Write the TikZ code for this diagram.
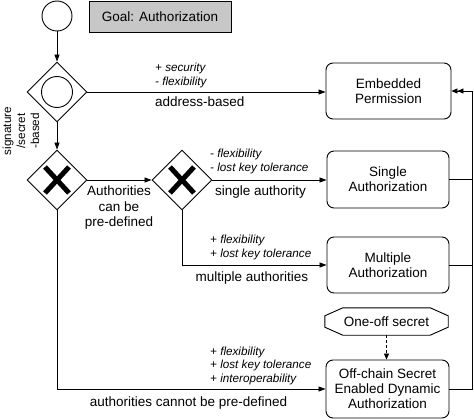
\documentclass[tikz,border=0pt]{standalone}
\usepackage{fontspec}
\setmainfont{Liberation Sans}
\usetikzlibrary{shapes.geometric,arrows.meta}
\tikzset{
  lbl/.style={font=\fontsize{13.5}{15.5}\selectfont, inner sep=0pt},
  ilbl/.style={font=\fontsize{11.7}{13.5}\selectfont\itshape, inner sep=0pt, align=left, anchor=west},
  task/.style={draw, line width=0.9pt, rounded corners=7pt, align=center, font=\fontsize{13.5}{15}\selectfont, inner sep=0pt},
  gate/.style={draw, line width=0.9pt, diamond, aspect=1, minimum size=60pt, inner sep=0pt},
  flow/.style={line width=0.8pt, -{Triangle[length=7pt,width=5pt]}},
  plain/.style={line width=0.8pt},
}
\begin{document}
\begin{tikzpicture}[x=1pt,y=-1pt]
\useasboundingbox (0,0) rectangle (474,420);
% nodes
\node[draw, circle, line width=0.9pt, minimum size=30pt, inner sep=0pt] (start) at (57,16) {};
\node[draw, line width=0.9pt, fill=black!22, minimum width=142pt, minimum height=31pt, font=\fontsize{13.5}{15}\selectfont] (goal) at (160,16.5) {Goal: Authorization};
\node[gate] (gw1) at (57,92) {};
\node[draw, circle, line width=0.9pt, minimum size=31pt, inner sep=0pt] (gw1c) at (gw1) {};
\node[gate] (gw2) at (57,180) {};
\node[gate] (gw3) at (182,180) {};
\foreach \g in {gw2,gw3}{
  \draw[line width=5pt] ([shift={(-12,-13)}]\g.center) -- ([shift={(12,13)}]\g.center);
  \draw[line width=5pt] ([shift={(-12,13)}]\g.center) -- ([shift={(12,-13)}]\g.center);
}
\node[task, minimum width=125pt, minimum height=56pt] (emb) at (388.5,91) {Embedded\\Permission};
\node[task, minimum width=122pt, minimum height=57pt] (single) at (388,179.5) {Single\\Authorization};
\node[task, minimum width=122pt, minimum height=56pt] (multi) at (388,265) {Multiple\\Authorization};
\node[minimum width=123pt, minimum height=27pt, inner sep=0pt, font=\fontsize{13.5}{15}\selectfont] (secret) at (386.5,321.5) {One-off secret};
\draw[line width=0.9pt] ([xshift=18pt]secret.north west) -- ([xshift=-18pt]secret.north east)
  -- ([yshift=-8pt]secret.north east) -- ([yshift=8pt]secret.south east)
  -- ([xshift=-18pt]secret.south east) -- ([xshift=18pt]secret.south west)
  -- ([yshift=8pt]secret.south west) -- ([yshift=-8pt]secret.north west) -- cycle;
\node[task, minimum width=123pt, minimum height=58pt] (off) at (387.5,389) {Off-chain Secret\\Enabled Dynamic\\Authorization};
\coordinate (R) at (472,91);
% connectors
\draw[flow] (start) -- (gw1);
\draw[flow] (gw1) -- (gw2);
\draw[flow] (gw1.east) -- (gw1.east -| emb.west);
\draw[flow] (gw2) -- (gw3);
\draw[flow] (gw3.east) -- (gw3.east -| single.west);
\draw[flow] (gw3.south) |- (multi.west);
\draw[flow] (gw2.south) |- (off.west);
\draw[line width=0.8pt, dashed, dash pattern=on 3pt off 2pt, -{Triangle[length=6pt,width=5pt]}] (secret.south) -- (secret.south |- off.north);
\draw[plain] (single.east) -- (single.east -| R);
\draw[plain] (multi.east) -- (multi.east -| R);
\draw[line width=0.8pt, -{Triangle[length=6pt,width=5pt]Triangle[length=6pt,width=5pt]}] (off.east) -| (R) -- (emb.east);
% labels
\node[ilbl] (l1) at (155,75.5) {+ security\\- flexibility};
\node[lbl, anchor=west] (l2) at (155,102) {address-based};
\node[lbl, align=center] (l3) at (119,208) {Authorities\\can be\\pre-defined};
\node[ilbl] (l4) at (210,161.5) {- flexibility\\- lost key tolerance};
\node[lbl, anchor=west] (l5) at (215,192) {single authority};
\node[ilbl] (l6) at (210,247.5) {+ flexibility\\+ lost key tolerance};
\node[lbl] (l7) at (252,278) {multiple authorities};
\node[ilbl] (l8) at (210,365.5) {+ flexibility\\+ lost key tolerance\\+ interoperability};
\node[lbl] (l9) at (188.5,403) {authorities cannot be pre-defined};
\node[font=\fontsize{11.7}{14}\selectfont, align=center, rotate=90, inner sep=0pt] (l10) at (21,131) {signature\\/secret\\-based};
\end{tikzpicture}
\end{document}
